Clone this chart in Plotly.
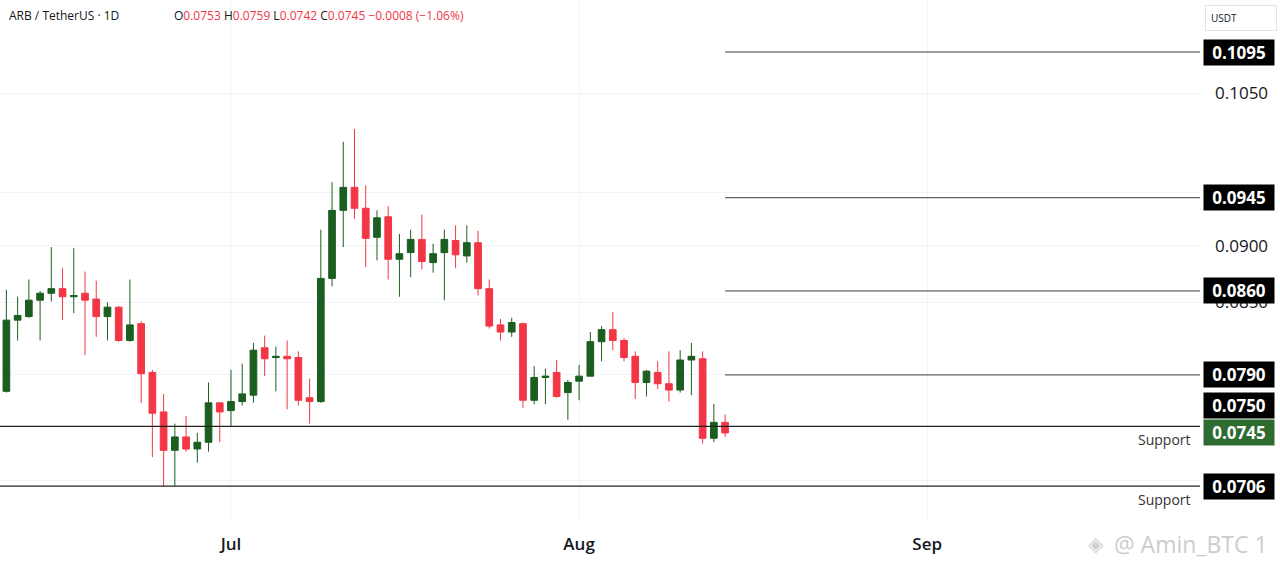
import math
import pandas as pd
import plotly.graph_objects as go

# daily candles, Jun 11 - Aug 14
dates = pd.date_range("2025-06-11", "2025-08-14", freq="D")
opens = [0.0777, 0.0835, 0.0838, 0.0852, 0.0858, 0.0862, 0.0855, 0.0858, 0.0853, 0.0838,
         0.0846, 0.0818, 0.0832, 0.0792, 0.0761, 0.0732, 0.0742, 0.0733, 0.0738, 0.0768,
         0.0762, 0.0769, 0.0774, 0.0812, 0.0804, 0.0805, 0.0804, 0.0772, 0.0769, 0.0871,
         0.0933, 0.0955, 0.0935, 0.0908, 0.0927, 0.0888, 0.0894, 0.0906, 0.0885, 0.0894,
         0.0905, 0.0891, 0.0903, 0.0862, 0.0831, 0.0825, 0.0832, 0.0770, 0.0788, 0.0792,
         0.0776, 0.0785, 0.0789, 0.0817, 0.0827, 0.0818, 0.0805, 0.0784, 0.0792, 0.0783,
         0.0778, 0.0802, 0.0803, 0.0741, 0.0753]
highs = [0.0861, 0.0855, 0.0870, 0.0860, 0.0899, 0.0880, 0.0898, 0.0877, 0.0869, 0.0850,
         0.0847, 0.0870, 0.0834, 0.0794, 0.0775, 0.0752, 0.0758, 0.0745, 0.0784, 0.0768,
         0.0794, 0.0799, 0.0816, 0.0822, 0.0813, 0.0818, 0.0809, 0.0787, 0.0915, 0.0960,
         0.1000, 0.1013, 0.0957, 0.0933, 0.0937, 0.0911, 0.0915, 0.0929, 0.0902, 0.0915,
         0.0919, 0.0919, 0.0914, 0.0870, 0.0836, 0.0837, 0.0833, 0.0797, 0.0795, 0.0802,
         0.0786, 0.0798, 0.0825, 0.0830, 0.0842, 0.0820, 0.0809, 0.0794, 0.0801, 0.0809,
         0.0810, 0.0816, 0.0809, 0.0767, 0.0759]
lows = [0.0776, 0.0818, 0.0837, 0.0818, 0.0851, 0.0835, 0.0841, 0.0806, 0.0821, 0.0818,
        0.0817, 0.0817, 0.0768, 0.0727, 0.0706, 0.0706, 0.0731, 0.0723, 0.0731, 0.0738,
        0.0750, 0.0766, 0.0768, 0.0789, 0.0777, 0.0763, 0.0766, 0.0752, 0.0768, 0.0864,
        0.0899, 0.0925, 0.0881, 0.0887, 0.0870, 0.0855, 0.0872, 0.0879, 0.0876, 0.0852,
        0.0880, 0.0885, 0.0856, 0.0828, 0.0818, 0.0821, 0.0764, 0.0767, 0.0767, 0.0772,
        0.0755, 0.0770, 0.0789, 0.0801, 0.0810, 0.0801, 0.0771, 0.0773, 0.0779, 0.0769,
        0.0776, 0.0774, 0.0737, 0.0738, 0.0742]
closes = [0.0835, 0.0839, 0.0852, 0.0858, 0.0862, 0.0855, 0.0856, 0.0852, 0.0838, 0.0846,
          0.0818, 0.0831, 0.0791, 0.0760, 0.0732, 0.0742, 0.0733, 0.0738, 0.0768, 0.0761,
          0.0769, 0.0775, 0.0810, 0.0803, 0.0805, 0.0803, 0.0770, 0.0769, 0.0871, 0.0933,
          0.0955, 0.0935, 0.0907, 0.0926, 0.0888, 0.0893, 0.0906, 0.0886, 0.0893, 0.0906,
          0.0892, 0.0903, 0.0862, 0.0830, 0.0825, 0.0833, 0.0770, 0.0788, 0.0789, 0.0773,
          0.0784, 0.0789, 0.0817, 0.0827, 0.0818, 0.0804, 0.0784, 0.0793, 0.0783, 0.0778,
          0.0802, 0.0805, 0.0741, 0.0753, 0.0745]

# drawn levels
resistance_levels = [0.1095, 0.0945, 0.0860, 0.0790]
support_levels = [0.0750, 0.0706]
last_price = 0.0745

# axis ticks (the ones hidden behind level boxes keep only their grid line)
price_ticks = [0.071, 0.079, 0.085, 0.090, 0.095, 0.105]
price_tick_text = ["", "", "0.0850", "0.0900", "", "0.1050"]
month_ticks = ["2025-07-01", "2025-08-01", "2025-09-01"]
month_text = ["Jul", "Aug", "Sep"]

GREEN = "#1b5e20"
RED = "#f23645"
GRID = "#f0f3fa"
x_start = "2025-06-10 10:20"
x_end = "2025-09-25 07:00"

fig = go.Figure()
fig.add_trace(go.Candlestick(
    x=dates, open=opens, high=highs, low=lows, close=closes,
    increasing=dict(line=dict(color=GREEN, width=1), fillcolor=GREEN),
    decreasing=dict(line=dict(color=RED, width=1), fillcolor=RED),
    showlegend=False,
))

shapes = []
for lv in resistance_levels:
    shapes.append(dict(type="line", xref="x", yref="y", x0=dates[-1], x1=x_end,
                       y0=lv, y1=lv, line=dict(color="#3c3c3c", width=1)))
for lv in support_levels:
    shapes.append(dict(type="line", xref="x", yref="y", x0=x_start, x1=x_end,
                       y0=lv, y1=lv, line=dict(color="#222222", width=1.2)))

# annotations on a log axis take log10 positions
annotations = []
box_font = dict(family="Open Sans", size=17, color="white", weight="bold")
for lv in resistance_levels + support_levels:
    shift = 21 if lv == 0.0750 else 0
    annotations.append(dict(xref="paper", yref="y", x=1, y=math.log10(lv), xanchor="left",
                            xshift=3, yshift=shift, text=f"{lv:.4f}", showarrow=False,
                            bgcolor="black", font=box_font, width=66, height=21, borderpad=2))
annotations.append(dict(xref="paper", yref="y", x=1, y=math.log10(last_price), xanchor="left",
                        xshift=3, text=f"{last_price:.4f}", showarrow=False, bgcolor="#2e6b30",
                        font=box_font, width=66, height=21, borderpad=2))
for lv in support_levels:
    annotations.append(dict(xref="paper", yref="y", x=0.9945, y=math.log10(lv), xanchor="right",
                            yshift=-13, text="Support", showarrow=False,
                            font=dict(family="Open Sans", size=14, color="#333333")))

red = lambda s: f"<span style='color:{RED}'>{s}</span>"
annotations.append(dict(xref="paper", yref="paper", x=0.006, y=0.971, xanchor="left",
                        yanchor="middle", text="ARB / TetherUS · 1D", showarrow=False,
                        font=dict(family="Open Sans", size=12, color="#131722")))
ohlc_text = ("O" + red("0.0753") + " H" + red("0.0759") + " L" + red("0.0742") +
             " C" + red("0.0745") + " " + red("−0.0008 (−1.06%)"))
annotations.append(dict(xref="paper", yref="paper", x=0.1435, y=0.971, xanchor="left",
                        yanchor="middle", text=ohlc_text, showarrow=False,
                        font=dict(family="Open Sans", size=12, color="#131722")))
annotations.append(dict(xref="paper", yref="paper", x=1, y=0.99, xanchor="left", yanchor="top",
                        xshift=5, text="USDT  ", showarrow=False, align="left",
                        bgcolor="white", bordercolor="#e0e3eb", borderwidth=1, borderpad=5,
                        width=60, font=dict(family="Open Sans", size=10, color="#131722")))
annotations.append(dict(xref="paper", yref="paper", x=1.0583, y=-0.046, xanchor="right",
                        yanchor="middle", text="@ Amin_BTC 1", showarrow=False,
                        font=dict(family="Open Sans", size=23, color="#cccccc")))
annotations.append(dict(xref="paper", yref="paper", x=0.905, y=-0.046, xanchor="left",
                        yanchor="middle", text="◈", showarrow=False,
                        font=dict(family="DejaVu Sans", size=20, color="#d0d0d0")))

fig.update_layout(
    width=1280, height=566,
    margin=dict(l=0, r=80, t=0, b=46),
    paper_bgcolor="white", plot_bgcolor="white",
    boxgap=0.15,
    shapes=shapes, annotations=annotations,
    xaxis=dict(type="date", range=[x_start, x_end], rangeslider=dict(visible=False),
               tickvals=month_ticks, ticktext=month_text, showgrid=True, gridcolor=GRID,
               zeroline=False, showline=False, ticks="", ticklabelstandoff=12,
               tickfont=dict(family="Open Sans", size=17, color="#131722", weight=600)),
    yaxis=dict(type="log", side="right", range=[-1.16608, -0.93774],
               tickvals=price_ticks, ticktext=price_tick_text, showgrid=True, gridcolor=GRID,
               zeroline=False, showline=False, ticks="", ticklabelstandoff=14,
               tickfont=dict(family="Open Sans", size=17, color="#131722")),
)

# the page's default body margin would push the 1280x566 figure off by 8px
fig.write_html("out.html", config={"displayModeBar": False},
               post_script="document.body.style.margin='0';")
